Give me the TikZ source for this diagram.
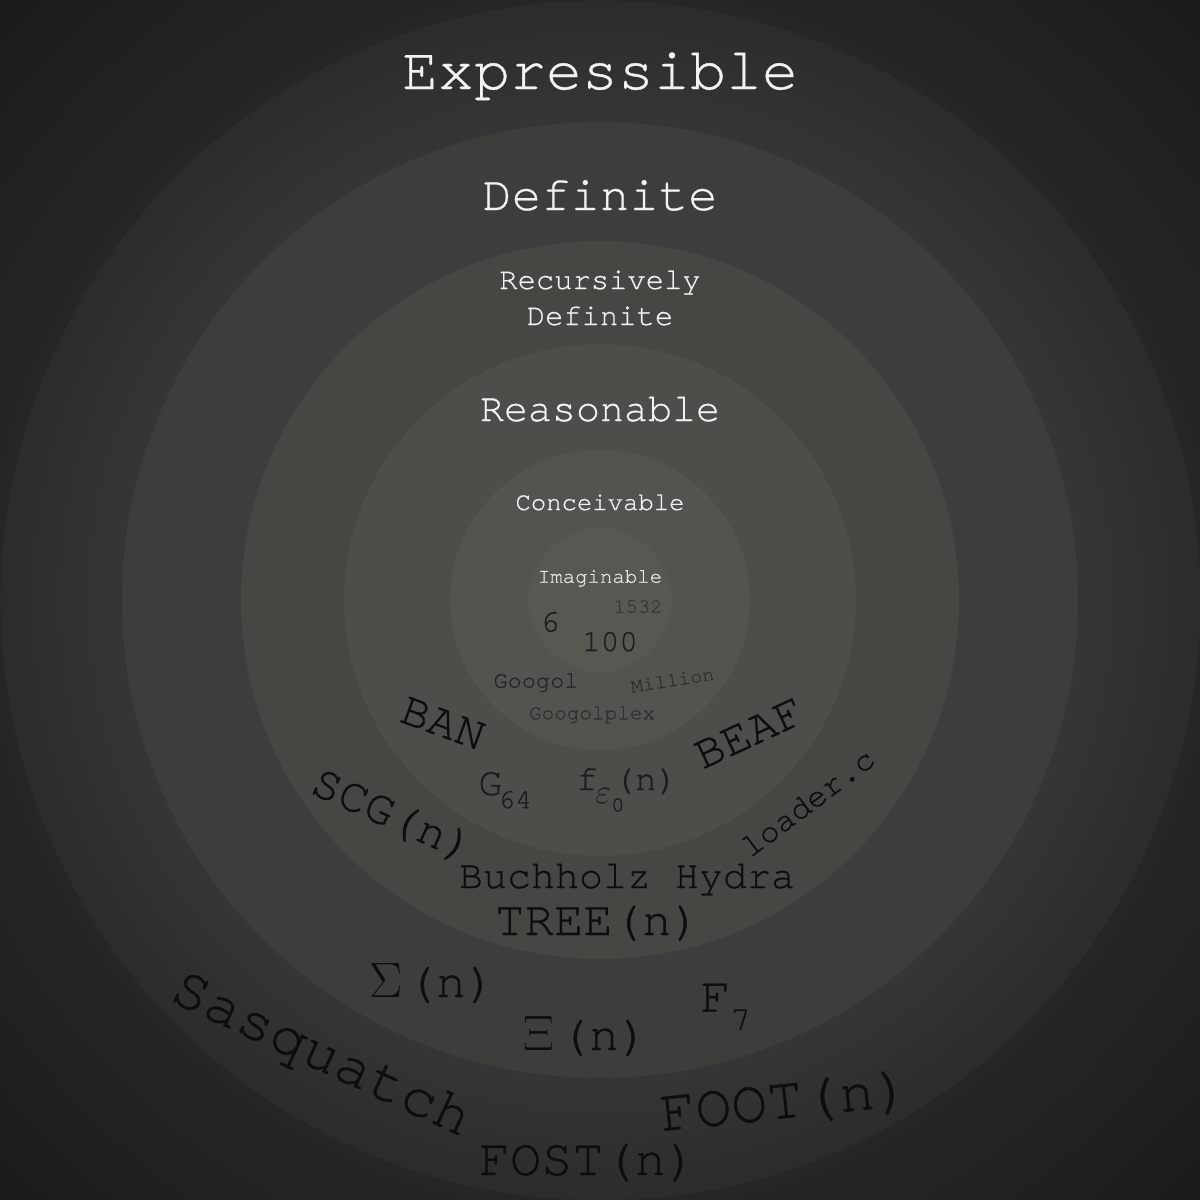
\documentclass[tikz,border=0pt]{standalone}
\usepackage{fontspec}
\setmainfont[Ligatures=NoCommon,FakeBold=0.6]{texgyrecursor-regular.otf}
\newcommand{\fsz}[1]{\fontsize{#1pt}{#1pt}\selectfont}
\definecolor{bgin}{HTML}{262626}
\definecolor{bgout}{HTML}{1B1B1B}
\definecolor{ringAin}{HTML}{353535}
\definecolor{ringAout}{HTML}{2C2C2C}
\definecolor{ringB}{HTML}{3D3D3B}
\definecolor{ringC}{HTML}{464643}
\definecolor{ringD}{HTML}{4D4D49}
\definecolor{ringE}{HTML}{53534F}
\definecolor{ringF}{HTML}{585853}
\definecolor{labw}{HTML}{F2F2F2}
\definecolor{labw2}{HTML}{E6E6E6}
\definecolor{dk}{HTML}{0D0D0D}
\definecolor{dkin}{HTML}{1C1C1C}
\definecolor{dkmid}{HTML}{242424}
\definecolor{dkdim}{HTML}{2E2E2C}
\definecolor{dkfaint}{HTML}{363634}
\pgfdeclareradialshading{vignette}{\pgfpoint{0pt}{0pt}}{%
  color(0pt)=(ringAin); color(239pt)=(ringAin); color(299.8pt)=(ringAout);
  color(300pt)=(bgin); color(425pt)=(bgout)}
\tikzset{
  wl/.style={text=labw, inner sep=0pt, anchor=base},
  dkb/.style={text=dk, inner sep=0pt, anchor=base},
  rot/.style={text=dk, inner sep=0pt, anchor=center, text depth=0pt}
}
\begin{document}
\begin{tikzpicture}[x=0.5pt,y=-0.5pt]
\useasboundingbox (0,0) rectangle (1200,1200);
\coordinate (c) at (600,600);
\begin{scope}
\clip (0,0) rectangle (1200,1200);
\node[inner sep=0pt, outer sep=0pt, anchor=center] (vig) at (c) {\pgfuseshading{vignette}};
\end{scope}
\fill[ringB] (c) circle[radius=239pt];
\fill[ringC] (c) circle[radius=179.5pt];
\fill[ringD] (c) circle[radius=128pt];
\fill[ringE] (c) circle[radius=75pt];
\fill[ringF] (c) circle[radius=36pt];

% ring labels
\node[wl, font=\fsz{30}] (expr) at (600,89) {Expressible};
\node[wl, font=\fsz{24.5}] (defi) at (600,210) {Definite};
\node[wl, font=\fsz{15.25}] (rec1) at (600,289) {Recursively};
\node[wl, font=\fsz{15.25}] (rec2) at (600,325) {Definite};
\node[wl, font=\fsz{20}] (reas) at (600,421) {Reasonable};
\node[wl, font=\fsz{12.8}] (conc) at (600,510) {Conceivable};
\node[wl, text=labw2, font=\fsz{10.35}] (imag) at (600,582.7) {Imaginable};

% inner numbers
\node[dkb, text=dkfaint, font=\fsz{10.2}] (n1532) at (638,612.7) {1532};
\node[dkb, text=dkin, font=\fsz{16}] (six) at (550,631.7) {6};
\node[dkb, text=dkin, font=\fsz{15.5}] (hund) at (610,651) {100};
\node[dkb, text=dkmid, font=\fsz{11.8}] (googol) at (536,687.7) {Googol};
\node[rot, text=dkdim, font=\fsz{10}, text height=5.7pt, rotate=9] (million) at (672.5,680.5) {Million};
\node[dkb, text=dkdim, font=\fsz{10.5}] (gplex) at (592,719.3) {Googolplex};

% second band
\node[rot, font=\fsz{24}, text height=13.7pt, rotate=-20] (ban) at (443,723) {BAN};
\node[rot, font=\fsz{24}, text height=13.7pt, rotate=25] (beaf) at (749,733) {BEAF};
\node[dkb, anchor=base west, text=dkin] (g64) at (478,795) {\fsz{20}G\kern-2pt\raisebox{-6.6pt}{\fsz{14}64}};
\node[dkb, anchor=base west, text=dkin] (feps) at (576,790) {\fsz{18}f\kern-1.3pt\raisebox{-6.5pt}{\fsz{18}$\varepsilon$}\raisebox{-10.8pt}{\fsz{11}0}\kern-5.5pt(n)};

% third band
\node[rot, font=\fsz{24}, text height=13.7pt, rotate=-24] (scg) at (393,815) {SCG(n)};
\node[rot, font=\fsz{16.5}, text height=9.4pt, rotate=37] (loader) at (808,803) {loader.c};
\node[dkb, font=\fsz{20}] (buch) at (627,888) {Buchholz Hydra};
\node[dkb, font=\fsz{24.5}] (tree) at (598,935) {TREE(n)};

% fourth band
\node[dkb, font=\fsz{25}] (sigma) at (431,997) {\makebox[20pt]{$\Sigma$}(n)};
\node[dkb, font=\fsz{25}] (xi) at (584,1050) {\makebox[20pt]{$\Xi$}(n)};
\node[dkb, anchor=base west] (f7) at (700,1011.7) {\fsz{25}F\raisebox{-9.2pt}{\fsz{17}7}};

% outer band
\node[rot, font=\fsz{30}, text height=17pt, rotate=-25] (sasq) at (322,1053) {Sasquatch};
\node[rot, font=\fsz{30}, text height=17pt, rotate=6] (foot) at (785,1101) {FOOT(n)};
\node[dkb, font=\fsz{26}] (fost) at (588,1175) {FOST(n)};
\end{tikzpicture}
\end{document}
